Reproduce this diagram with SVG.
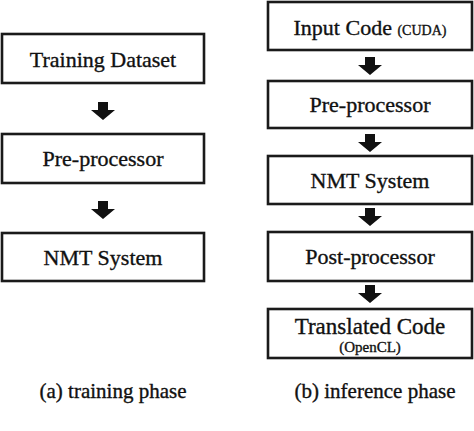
<svg xmlns="http://www.w3.org/2000/svg" xmlns:xlink="http://www.w3.org/1999/xlink" width="474" height="431" viewBox="0 0 474 431">
<style>
.box{fill:#fff;stroke:#1a1a1a;stroke-width:2.6}
.t{font-family:"Liberation Serif","Times New Roman",serif;fill:#111;stroke:#111;stroke-width:0.35;text-anchor:middle}
.lbl{font-size:22px}
.cap{font-size:21px}
.arr{fill:#111}
</style>
<defs>
<path id="arrow" d="M-5,0 H5 V8 H12 L0,18 L-12,8 H-5 Z"/>
</defs>
<rect width="474" height="431" fill="#fff"/>
<g id="connectors" class="arr">
<use xlink:href="#arrow" x="103" y="102"/>
<use xlink:href="#arrow" x="103" y="201"/>
<use xlink:href="#arrow" x="370" y="57"/>
<use xlink:href="#arrow" x="370" y="134"/>
<use xlink:href="#arrow" x="370" y="208"/>
<use xlink:href="#arrow" x="370" y="285"/>
</g>
<g id="a-training-dataset">
<rect class="box" x="2" y="34" width="202" height="49"/>
<text class="t lbl" x="103" y="67">Training Dataset</text>
</g>
<g id="a-preprocessor">
<rect class="box" x="2" y="134" width="202" height="49"/>
<text class="t lbl" x="103" y="166">Pre-processor</text>
</g>
<g id="a-nmt">
<rect class="box" x="2" y="233" width="202" height="48"/>
<text class="t lbl" x="103" y="265">NMT System</text>
</g>
<g id="b-input">
<rect class="box" x="268" y="2" width="204" height="48"/>
<text class="t lbl" x="370" y="35">Input Code <tspan font-size="14">(CUDA)</tspan></text>
</g>
<g id="b-preprocessor">
<rect class="box" x="268" y="81" width="204" height="47"/>
<text class="t lbl" x="370" y="112">Pre-processor</text>
</g>
<g id="b-nmt">
<rect class="box" x="268" y="156" width="204" height="48"/>
<text class="t lbl" x="370" y="188">NMT System</text>
</g>
<g id="b-postprocessor">
<rect class="box" x="268" y="232" width="204" height="49"/>
<text class="t lbl" x="370" y="264">Post-processor</text>
</g>
<g id="b-translated">
<rect class="box" x="268" y="309" width="204" height="49"/>
<text class="t" font-size="23" x="370" y="334">Translated Code</text>
<text class="t" font-size="15" x="370" y="352">(OpenCL)</text>
</g>
<text class="t cap" x="113" y="398">(a) training phase</text>
<text class="t cap" x="375" y="398">(b) inference phase</text>
</svg>
